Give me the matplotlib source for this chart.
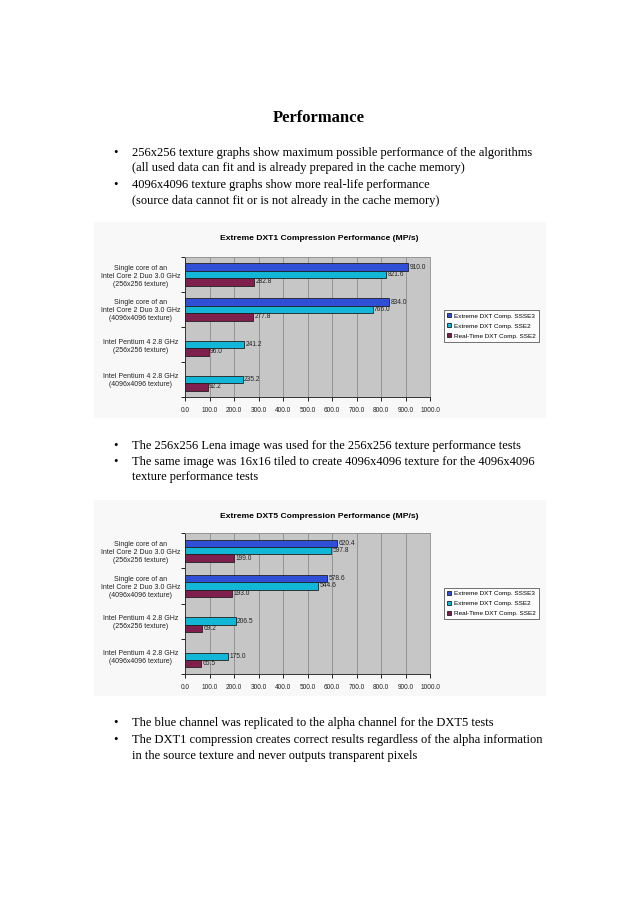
import matplotlib
matplotlib.use("Agg")
import matplotlib.pyplot as plt
import numpy as np
from matplotlib.patches import Rectangle

W, H = 638, 902
fig = plt.figure(figsize=(W / 100, H / 100), dpi=100)
fig.patch.set_facecolor("white")

categories = [
    "Single core of an\nIntel Core 2 Duo 3.0 GHz\n(256x256 texture)",
    "Single core of an\nIntel Core 2 Duo 3.0 GHz\n(4096x4096 texture)",
    "Intel Pentium 4 2.8 GHz\n(256x256 texture)",
    "Intel Pentium 4 2.8 GHz\n(4096x4096 texture)",
]
series_names = ["Extreme DXT Comp. SSSE3", "Extreme DXT Comp. SSE2", "Real-Time DXT Comp. SSE2"]
series_colors = ["#2F4FD6", "#12B6D6", "#7E1F4E"]

dxt1_ssse3 = [910.0, 834.0, np.nan, np.nan]
dxt1_sse2 = [821.6, 766.0, 241.2, 235.2]
dxt1_rt = [282.8, 277.8, 96.0, 92.2]

dxt5_ssse3 = [620.4, 578.6, np.nan, np.nan]
dxt5_sse2 = [597.8, 544.6, 206.5, 175.0]
dxt5_rt = [199.0, 193.0, 69.2, 65.5]

x_ticks = [0, 100, 200, 300, 400, 500, 600, 700, 800, 900, 1000]

SERIF = ["Liberation Serif", "DejaVu Serif"]
SANS = ["Liberation Sans", "DejaVu Sans"]


def fx(px):
    return px / W


def fy(py):
    return 1 - py / H


def text_line(x, y, s, **kw):
    fig.text(fx(x), fy(y), s, va="center", ha="left", family=SERIF, fontsize=9, **kw)


# Title
fig.text(fx(319), fy(118.5), "Performance", ha="center", va="center",
         family=SERIF, fontsize=12, fontweight="bold")

bx, tx = 116, 132
for y, s, bullet in [
    (153.0, "256x256 texture graphs show maximum possible performance of the algorithms", True),
    (168.3, "(all used data can fit and is already prepared in the cache memory)", False),
    (185.3, "4096x4096 texture graphs show more real-life performance", True),
    (200.8, "(source data cannot fit or is not already in the cache memory)", False),
    (446.3, "The 256x256 Lena image was used for the 256x256 texture performance tests", True),
    (461.8, "The same image was 16x16 tiled to create 4096x4096 texture for the 4096x4096", True),
    (477.3, "texture performance tests", False),
    (723.3, "The blue channel was replicated to the alpha channel for the DXT5 tests", True),
    (740.3, "The DXT1 compression creates correct results regardless of the alpha information", True),
    (755.8, "in the source texture and never outputs transparent pixels", False),
]:
    if bullet:
        fig.text(fx(bx), fy(y), "\u2022", ha="center", va="center", family=SERIF, fontsize=9)
    text_line(tx, y, s)


def draw_chart(top_px, bottom_px, title_y, chart_box, title, s1, s2, s3, legend_y):
    x0, y0, x1, y1 = chart_box
    fig.patches.append(Rectangle((fx(x0), fy(y1)), fx(x1) - fx(x0), fy(y0) - fy(y1),
                                 transform=fig.transFigure, facecolor="#F8F8F8",
                                 edgecolor="none", zorder=-10))
    left_px, right_px = 185, 430
    ax = fig.add_axes([fx(left_px), fy(bottom_px), fx(right_px) - fx(left_px),
                       fy(top_px) - fy(bottom_px)])
    ax.set_zorder(5)
    ax.set_facecolor("#C6C6C6")
    n = len(categories)
    pos = np.arange(n)
    h = 0.21
    vals = [s1, s2, s3]
    offs = [-h, 0, h]
    for vals_i, off, col, name in zip(vals, offs, series_colors, series_names):
        v = np.array(vals_i, dtype=float)
        bars = ax.barh(pos + off, np.nan_to_num(v), height=h, color=col,
                       edgecolor="#202020", linewidth=0.6, label=name, zorder=3)
        for b, val in zip(bars, v):
            if np.isnan(val):
                b.set_visible(False)
                continue
            ax.text(val + 6, b.get_y() + b.get_height() / 2, f"{val:.1f}",
                    va="center", ha="left", fontsize=4.8, family=SANS, color="#222222",
                    zorder=4)
    ax.set_xlim(0, 1000)
    ax.set_ylim(n - 0.5, -0.5)
    ax.set_xticks(x_ticks)
    ax.set_xticklabels([f"{t:.1f}" for t in x_ticks], fontsize=4.7, family=SANS,
                       color="#222222")
    ax.set_yticks(np.arange(n + 1) - 0.5, minor=False)
    ax.set_yticklabels([""] * (n + 1))
    ax.set_yticks(pos, minor=True)
    ax.set_yticklabels(categories, minor=True, fontsize=5.0, family=SANS,
                       color="#222222", linespacing=1.2, ha="center")
    ax.tick_params(axis="y", which="minor", length=0, pad=32)
    ax.tick_params(axis="y", which="major", length=3, width=0.6, direction="out")
    ax.tick_params(axis="x", length=3, width=0.6, pad=4)
    ax.xaxis.grid(True, color="#8C8C8C", linewidth=0.6, zorder=1)
    ax.set_axisbelow(True)
    for sp in ["top", "right"]:
        ax.spines[sp].set_color("#8C8C8C")
        ax.spines[sp].set_linewidth(0.6)
    for sp in ["left", "bottom"]:
        ax.spines[sp].set_color("#333333")
        ax.spines[sp].set_linewidth(0.7)
    fig.text(fx(319.5), fy(title_y), title, ha="center", va="center", family=SANS,
             fontsize=6.1, fontweight="bold")
    leg = ax.legend(loc="center left", bbox_to_anchor=(fx(441), fy(legend_y)),
                    bbox_transform=fig.transFigure, frameon=True,
                    fancybox=False, edgecolor="#333333", borderpad=0.5,
                    handlelength=0.6, handleheight=0.6, handletextpad=0.4,
                    labelspacing=0.75, prop={"family": SANS, "size": 4.6})
    leg.get_frame().set_linewidth(0.6)
    return ax


draw_chart(257, 397, 238.5, (94, 222, 546, 418),
           "Extreme DXT1 Compression Performance (MP/s)",
           dxt1_ssse3, dxt1_sse2, dxt1_rt, 326)
draw_chart(533, 674, 516, (94, 500, 546, 696),
           "Extreme DXT5 Compression Performance (MP/s)",
           dxt5_ssse3, dxt5_sse2, dxt5_rt, 603.5)

fig.savefig("out.png", dpi=100, facecolor="white")
